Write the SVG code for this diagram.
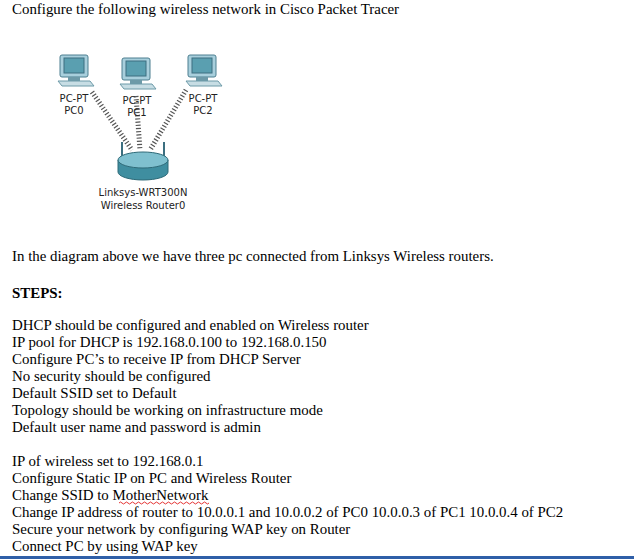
<svg xmlns="http://www.w3.org/2000/svg" width="634" height="559" viewBox="0 0 634 559">
<style>
.t{font-family:"Liberation Serif",serif;font-size:14.9px;fill:#000}
.l{font-family:"DejaVu Sans",sans-serif;font-size:10px;fill:#222;text-anchor:middle}
.w{stroke:#555;stroke-width:5;stroke-dasharray:1.2 2;fill:none}
.scr{fill:#5a9fb0;stroke:#3c6f80}
.mon{fill:#a8cfdc;stroke:#4d7f90}
</style>
<defs>
<g id="pc">
<rect x="-14" y="0" width="28" height="22" rx="2" class="mon"/>
<rect x="-10" y="3" width="20" height="15" class="scr"/>
<rect x="-6" y="22" width="12" height="4" fill="#6d9aa8"/>
<path d="M-16 26 L16 26 L20 31 L-12 31 Z" fill="#c7dde4" stroke="#6d9aa8"/>
</g>
</defs>
<rect width="634" height="559" fill="#fff"/>
<text class="t" x="12" y="14">Configure the following wireless network in Cisco Packet Tracer</text>
<g id="connectors">
<line class="w" x1="92" y1="92" x2="132" y2="150"/>
<line class="w" x1="136" y1="96" x2="140" y2="150"/>
<line class="w" x1="186" y1="90" x2="150" y2="150"/>
</g>
<g id="pc0"><use href="#pc" x="74" y="55"/><text class="l" x="74" y="102">PC-PT</text><text class="l" x="74" y="114">PC0</text></g>
<g id="pc1"><use href="#pc" x="136" y="58"/><text class="l" x="137" y="104">PC-PT</text><text class="l" x="137" y="116">PC1</text></g>
<g id="pc2"><use href="#pc" x="202" y="55"/><text class="l" x="203" y="102">PC-PT</text><text class="l" x="203" y="114">PC2</text></g>
<g id="router">
<line x1="122" y1="160" x2="122" y2="142" stroke="#3c6f80" stroke-width="2"/>
<line x1="164" y1="160" x2="164" y2="142" stroke="#3c6f80" stroke-width="2"/>
<path d="M118 160 L118 172 A25 8 0 0 0 168 172 L168 160 Z" fill="#3f8ea0" stroke="#2e6a78"/>
<ellipse cx="143" cy="160" rx="25" ry="8" fill="#7fc0cf" stroke="#2e6a78"/>
<text class="l" x="143" y="196">Linksys-WRT300N</text>
<text class="l" x="143" y="209">Wireless Router0</text>
</g>
<text class="t" x="12" y="261">In the diagram above we have three pc connected from Linksys Wireless routers.</text>
<text class="t" x="12" y="298" font-weight="bold">STEPS:</text>
<text class="t" x="12" y="330">DHCP should be configured and enabled on Wireless router</text>
<text class="t" x="12" y="347">IP pool for DHCP is 192.168.0.100 to 192.168.0.150</text>
<text class="t" x="12" y="364">Configure PC’s to receive IP from DHCP Server</text>
<text class="t" x="12" y="381">No security should be configured</text>
<text class="t" x="12" y="398">Default SSID set to Default</text>
<text class="t" x="12" y="415">Topology should be working on infrastructure mode</text>
<text class="t" x="12" y="432">Default user name and password is admin</text>
<text class="t" x="12" y="466">IP of wireless set to 192.168.0.1</text>
<text class="t" x="12" y="483">Configure Static IP on PC and Wireless Router</text>
<text class="t" x="12" y="500">Change SSID to MotherNetwork</text>
<path d="M119 503 q1.5 -2 3 0 t3 0 t3 0 t3 0 t3 0 t3 0 t3 0 t3 0 t3 0 t3 0 t3 0 t3 0 t3 0 t3 0 t3 0 t3 0 t3 0 t3 0 t3 0 t3 0 t3 0 t3 0 t3 0 t3 0 t3 0 t3 0 t3 0 t3 0 t3 0 t3 0" fill="none" stroke="#d00" stroke-width="0.8"/>
<text class="t" x="12" y="517">Change IP address of router to 10.0.0.1 and 10.0.0.2 of PC0 10.0.0.3 of PC1 10.0.0.4 of PC2</text>
<text class="t" x="12" y="534">Secure your network by configuring WAP key on Router</text>
<text class="t" x="12" y="551">Connect PC by using WAP key</text>
<rect x="0" y="556" width="634" height="3" fill="#2f5fa8"/>
</svg>
